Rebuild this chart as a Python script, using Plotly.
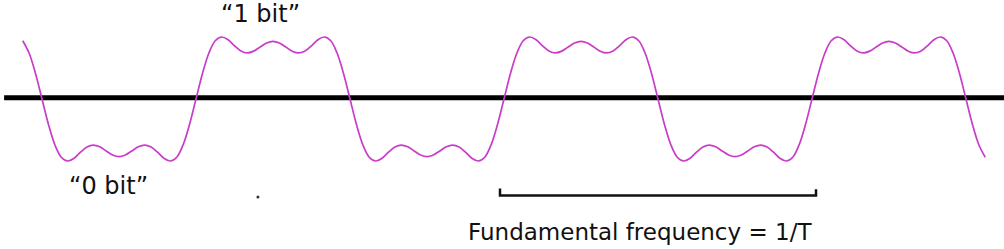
import plotly.graph_objects as go

# ---- data ----
# one half-cycle of the square-wave approximation, sampled every 1/48 of the period
half_cycle_phase = [i / 48 for i in range(25)]  # fraction of period T
half_cycle_value = [0.00, 0.380, 0.688, 0.876, 0.933, 0.891, 0.801, 0.723, 0.693,
                    0.720, 0.782, 0.842, 0.867, 0.842, 0.782, 0.720, 0.693, 0.723,
                    0.801, 0.891, 0.933, 0.876, 0.688, 0.380, 0.00]
# sign of each half cycle shown (starts in a "1" half, then alternates)
half_cycle_index = [-1, 0, 1, 2, 3, 4, 5, 6]
half_cycle_sign = [1, -1, 1, -1, 1, -1, 1, -1]
wave_start_t = -0.0833
wave_end_t = 3.0833

baseline_level = 0.02
bracket_x = [1.487, 1.487, 2.513, 2.513]
bracket_y = [-1.347, -1.452, -1.452, -1.357]
dot_x = [0.701]
dot_y = [-1.475]

labels = ["\u201c1 bit\u201d", "\u201c0 bit\u201d", "Fundamental frequency = 1/T"]
label_x = [0.711, 0.216, 1.9416]
label_y = [1.285, -1.31, -2.0]
label_size = [24, 24, 23]

# ---- build the wave by tiling the half-cycle shape ----
wx, wy = [], []
for k, s in zip(half_cycle_index, half_cycle_sign):
    for p, v in zip(half_cycle_phase, half_cycle_value):
        t = k * 0.5 + p
        if wave_start_t - 1e-6 <= t <= wave_end_t + 1e-6:
            if wx and abs(wx[-1] - t) < 1e-9:
                continue
            wx.append(t)
            wy.append(s * v)

fig = go.Figure()
fig.add_trace(go.Scatter(x=[-0.123, 3.13], y=[baseline_level, baseline_level], mode="lines",
                         line=dict(color="#000000", width=5), hoverinfo="skip"))
fig.add_trace(go.Scatter(x=wx, y=wy, mode="lines", line=dict(color="#c83cc8", width=1.7, shape="spline"),
                         hoverinfo="skip"))
fig.add_trace(go.Scatter(x=bracket_x, y=bracket_y, mode="lines",
                         line=dict(color="#111111", width=2.5), hoverinfo="skip"))
fig.add_trace(go.Scatter(x=dot_x, y=dot_y, mode="markers",
                         marker=dict(color="#333333", size=3), hoverinfo="skip"))

for txt, x, y, sz in zip(labels, label_x, label_y, label_size):
    fig.add_annotation(x=x, y=y, text=txt, showarrow=False, xanchor="center", yanchor="middle",
                       font=dict(family="DejaVu Sans", size=sz, color="#111111"))

fig.update_layout(
    width=1004, height=249, margin=dict(l=0, r=0, t=0, b=0),
    paper_bgcolor="white", plot_bgcolor="white", showlegend=False,
    xaxis=dict(range=[-0.13636, 3.1234], visible=False, fixedrange=True),
    yaxis=dict(range=[-2.2573, 1.4898], visible=False, fixedrange=True),
)
fig.write_html("out.html")
